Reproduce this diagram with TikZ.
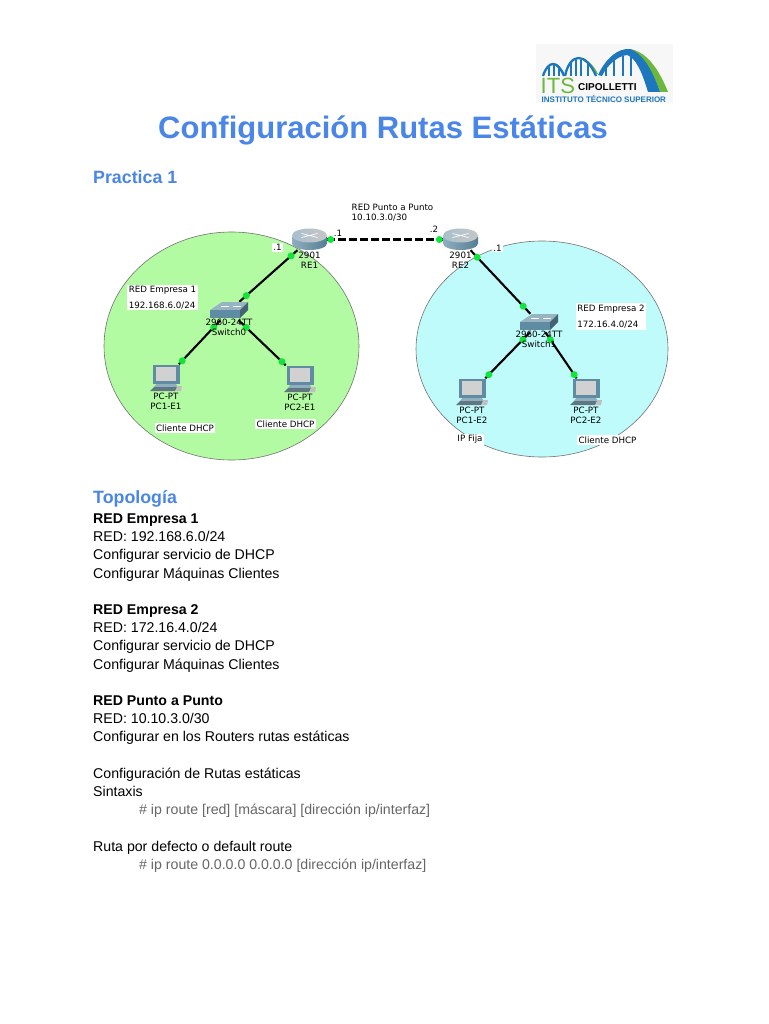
\documentclass[tikz,border=0pt]{standalone}
\usepackage{fontspec}
\setmainfont{Liberation Sans}
\newfontfamily\ptfont{DejaVu Sans}
\usetikzlibrary{positioning, shapes.geometric}

\definecolor{headblue}{HTML}{4A86E8}
\definecolor{lanone}{HTML}{B2FBA2}
\definecolor{lantwo}{HTML}{BFFBFB}
\definecolor{portgreen}{HTML}{12E43A}
\definecolor{steel}{HTML}{5F8CA3}
\definecolor{logoblue}{HTML}{1E76BC}
\definecolor{logogreen}{HTML}{6CB83A}

\tikzset{
  lan/.style = {ellipse, draw = black!55, line width = 0.6pt, inner sep = 0pt},
  devbox/.style = {rectangle, inner sep = 0pt},
  link/.style = {line width = 2.1pt},
  portdot/.style = {circle, fill = portgreen, inner sep = 0pt, minimum size = 7pt},
  devlabel/.style = {font = \ptfont\fontsize{8.7}{9.8}\selectfont, align = center, inner sep = 0pt},
  netlabel/.style = {devlabel, fill = white, inner sep = 1.5pt, align = left},
  bodytext/.style = {font = \fontsize{14.15}{18.2}\selectfont, align = left, inner sep = 0pt},
  heading/.style = {font = \bfseries\fontsize{17.8}{22}\selectfont, text = headblue, inner sep = 0pt, anchor = base west},
  routerpic/.pic = {
    \shade[left color = steel!70!white, right color = steel!90!black] (-17.5,-3) -- (-17.5,4) arc[start angle = 180, end angle = 360, x radius = 17.5pt, y radius = 6.5pt] -- (17.5,-3) -- cycle;
    \shade[left color = steel!55!white, right color = black!22!white] (0,-4) ellipse [x radius = 17.5pt, y radius = 7pt];
    \draw[white, line width = 0.7pt] (-8,-6) -- (8,-2) (-8,-2) -- (8,-6);
  },
  switchpic/.pic = {
    \fill[steel!65!white] (-19,-1) -- (-7,-9) -- (19,-9) -- (11,-1) -- cycle;
    \fill[steel] (-19,-1) -- (11,-1) -- (11,7) -- (-19,7) -- cycle;
    \fill[steel!70!black] (11,-1) -- (19,-9) -- (19,-1) -- (11,7) -- cycle;
    \draw[white, line width = 0.5pt] (-8,-5) -- (0,-5) (4,-5) -- (12,-5);
  },
  pcpic/.pic = {
    \fill[steel!70!white] (-9,5) -- (9,5) -- (12,9) -- (-12,9) -- cycle;
    \fill[steel!60!black!80] (-16,13) -- (-12,9) -- (11,9) -- (9,13) -- cycle;
    \fill[black!25!white] (11,8) -- (16,8) -- (15,13) -- (10,13) -- cycle;
    \fill[steel] (-13,-13) rectangle (14,6);
    \fill[black!18!white] (-10,-11) rectangle (10,3);
  }
}

\begin{document}
\begin{tikzpicture}[x = 1pt, y = -1pt]
  \useasboundingbox[fill = white] (0,0) rectangle (768,1024);

  % logo
  \fill[black!3] (536,44) rectangle (673,103);
  \fill[logogreen] (630,49) .. controls (648,52) and (660,72) .. (668,92) -- (660,92) .. controls (654,74) and (644,56) .. (630,49) -- cycle;
  \fill[logoblue] (598,75) .. controls (606,58) and (618,48) .. (630,49) .. controls (644,54) and (654,74) .. (660,92) -- (648,92) .. controls (642,72) and (636,58) .. (627,55) .. controls (618,56) and (608,64) .. (602,76) -- cycle;
  \draw[logogreen, line width = 2pt] (556,65) .. controls (559,67) and (562,71) .. (564,75);
  \draw[logogreen, line width = 2pt] (584,60) .. controls (590,63) and (594,68) .. (597,74);
  \draw[logoblue, line width = 2.3pt] (543,76) .. controls (548,60) and (558,60) .. (564,76);
  \draw[logoblue, line width = 2.3pt] (565,76) .. controls (570,52) and (586,52) .. (596,76);
  \foreach \xbar/\ytop in {548/67,553/65,558/67,570/62,575/60,580/60,587/62,605/66,613/60,622/56,630/56} {
    \fill[logoblue] (\xbar,\ytop) rectangle (\xbar+2,76);
  }
  \node[font = \fontsize{22}{23}\selectfont, text = logogreen, inner sep = 0pt, anchor = base west] (logoits) at (540.5,93.5) {ITS};
  \node[font = \bfseries\fontsize{10}{10}\selectfont, inner sep = 0pt, anchor = base west] (logocity) at (578,90.5) {CIPOLLETTI};
  \node[font = \bfseries\fontsize{8}{8}\selectfont, text = logoblue, inner sep = 0pt, anchor = base west] (logoname) at (541.5,102.3) {INSTITUTO TÉCNICO SUPERIOR};

  % titles
  \node[font = \bfseries\fontsize{31}{36}\selectfont, text = headblue, inner sep = 0pt, anchor = base] (title) at (383,138.5) {Configuración Rutas Estáticas};
  \node[heading] (practica) at (93,184) {Practica 1};

  % networks
  \node[lan, fill = lanone, minimum width = 255pt, minimum height = 228pt] (lanE1) at (231.5,346) {};
  \node[lan, fill = lantwo, minimum width = 252pt, minimum height = 216pt] (lanE2) at (542,349) {};

  % devices
  \node[devbox, minimum width = 35pt, minimum height = 21pt] (RE1) at (309.5,239.5) {};
  \node[devbox, minimum width = 35pt, minimum height = 21pt] (RE2) at (460.5,239.5) {};
  \node[devbox, minimum width = 38pt, minimum height = 18pt] (Switch0) at (229,311) {};
  \node[devbox, minimum width = 38pt, minimum height = 18pt] (Switch1) at (539,323) {};
  \node[devbox, minimum width = 33pt, minimum height = 27pt] (PC1E1) at (166,378) {};
  \node[devbox, minimum width = 33pt, minimum height = 27pt] (PC2E1) at (300,379) {};
  \node[devbox, minimum width = 33pt, minimum height = 27pt] (PC1E2) at (472,392) {};
  \node[devbox, minimum width = 33pt, minimum height = 27pt] (PC2E2) at (586,392) {};

  \path[draw, link]
    (RE1) edge node[portdot, pos = .11] {} node[portdot, pos = .88] {} (Switch0)
    (Switch0) edge node[portdot, pos = .16] {} node[portdot, pos = .92] {} (PC1E1)
    (Switch0) edge node[portdot, pos = .16] {} node[portdot, pos = .92] {} (PC2E1)
    (RE2) edge node[portdot, pos = .11] {} node[portdot, pos = .88] {} (Switch1)
    (Switch1) edge node[portdot, pos = .16] {} node[portdot, pos = .92] {} (PC1E2)
    (Switch1) edge node[portdot, pos = .16] {} node[portdot, pos = .92] {} (PC2E2);
  \path[draw, link, dash pattern = on 8pt off 3pt]
    (RE1) edge node[portdot, pos = .03, solid] {} node[portdot, pos = .97, solid] {} (RE2);

  \pic at (RE1) {routerpic};
  \pic at (RE2) {routerpic};
  \pic at (Switch0) {switchpic};
  \pic at (Switch1) {switchpic};
  \pic at (PC1E1) {pcpic};
  \pic at (PC2E1) {pcpic};
  \pic at (PC1E2) {pcpic};
  \pic at (PC2E2) {pcpic};

  % device labels
  \node[devlabel, below = 1.5pt of RE1] (RE1lab) {2901\\RE1};
  \node[devlabel, below = 1.5pt of RE2] (RE2lab) {2901\\RE2};
  \node[devlabel, below = -1pt of Switch0] (Switch0lab) {2960-24TT\\Switch0};
  \node[devlabel, below = -1pt of Switch1] (Switch1lab) {2960-24TT\\Switch1};
  \node[devlabel, below = 1pt of PC1E1] (PC1E1lab) {PC-PT\\PC1-E1};
  \node[devlabel, below = 1pt of PC2E1] (PC2E1lab) {PC-PT\\PC2-E1};
  \node[devlabel, below = 1pt of PC1E2] (PC1E2lab) {PC-PT\\PC1-E2};
  \node[devlabel, below = 1pt of PC2E2] (PC2E2lab) {PC-PT\\PC2-E2};

  % network labels
  \node[netlabel] (netE1) at (162.5,297.5) {RED Empresa 1\\[6pt]192.168.6.0/24};
  \node[netlabel] (netE2) at (611,316.5) {RED Empresa 2\\[6pt]172.16.4.0/24};
  \node[netlabel] (netPP) at (392.5,212.5) {RED Punto a Punto\\10.10.3.0/30};
  \node[netlabel] (dhcpA) at (185,428) {Cliente DHCP};
  \node[netlabel] (dhcpB) at (285.5,424) {Cliente DHCP};
  \node[netlabel] (dhcpC) at (607.5,440) {Cliente DHCP};
  \node[netlabel] (ipfija) at (470,439.5) {IP Fija};
  \node[netlabel, inner sep = 1pt] (dotA) at (277.5,247.5) {.1};
  \node[devlabel] (dotB) at (338,233.5) {.1};
  \node[devlabel] (dotC) at (434,229.5) {.2};
  \node[netlabel, inner sep = 1pt] (dotD) at (497.5,248) {.1};

  % text
  \node[heading] (topologia) at (93,503) {Topología};
  \node[bodytext, below = 6.5pt of topologia.south west, anchor = north west] (notes) {%
    \textbf{RED Empresa 1}\\
    RED: 192.168.6.0/24\\
    Configurar servicio de DHCP\\
    Configurar Máquinas Clientes\\
    \mbox{}\\
    \textbf{RED Empresa 2}\\
    RED: 172.16.4.0/24\\
    Configurar servicio de DHCP\\
    Configurar Máquinas Clientes\\
    \mbox{}\\
    \textbf{RED Punto a Punto}\\
    RED: 10.10.3.0/30\\
    Configurar en los Routers rutas estáticas\\
    \mbox{}\\
    Configuración de Rutas estáticas\\
    Sintaxis\\
    \hspace*{46pt}{\color{black!60}\# ip route [red] [máscara] [dirección ip/interfaz]}\\
    \mbox{}\\
    Ruta por defecto o default route\\
    \hspace*{46pt}{\color{black!60}\# ip route 0.0.0.0 0.0.0.0 [dirección ip/interfaz]}};
\end{tikzpicture}
\end{document}
